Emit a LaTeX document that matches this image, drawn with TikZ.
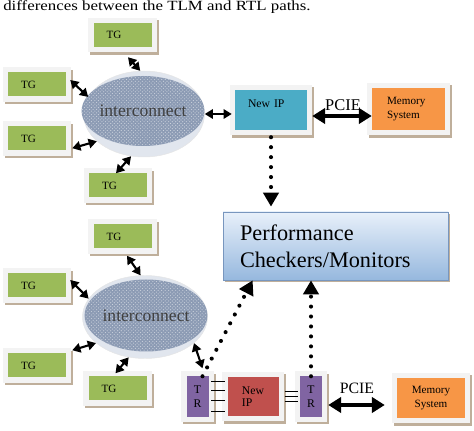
\documentclass[tikz,border=0pt]{standalone}
\usepackage{fontspec}
\setmainfont{Liberation Serif}
\usepackage{xcolor}
\definecolor{tggreen}{RGB}{155,187,89}
\definecolor{ipblue}{RGB}{75,172,198}
\definecolor{memorange}{RGB}{247,150,70}
\definecolor{dutred}{RGB}{192,80,77}
\definecolor{trpurple}{RGB}{128,100,162}
\definecolor{icgray}{RGB}{140,155,180}
\definecolor{ringgray}{RGB}{225,230,238}
\definecolor{framegray}{RGB}{243,243,243}
\definecolor{shadowbrown}{RGB}{175,155,130}
\definecolor{perflight}{RGB}{232,240,250}
\definecolor{perfdark}{RGB}{150,184,222}
\definecolor{perfedge}{RGB}{120,150,190}
\usepackage{tikz}
\usetikzlibrary{calc}
\usetikzlibrary{shapes.geometric}
\usetikzlibrary{arrows.meta}
\usetikzlibrary{patterns}
\usetikzlibrary{fit}
\usetikzlibrary{backgrounds}
\usetikzlibrary{shadows}
\newlength{\unitpx}
\setlength{\unitpx}{0.03cm}
\tikzset{
    common/.style={rectangle, inner sep=0pt},
    tg/.style={common, fill=tggreen, minimum height=24\unitpx, text width=32\unitpx, inner xsep=13\unitpx, align=left, font=\fontsize{9.5}{11}\selectfont},
    ipnew/.style={common, fill=ipblue, minimum height=40\unitpx, text width=46\unitpx, inner xsep=13\unitpx, align=left, text height=7pt, text depth=11pt, font=\fontsize{10}{11}\selectfont},
    memory/.style={common, fill=memorange, font=\fontsize{9.5}{12.5}\selectfont},
    tr/.style={common, fill=trpurple, minimum width=22\unitpx, minimum height=40\unitpx, align=center, font=\fontsize{10}{11.5}\selectfont},
    dut/.style={common, fill=dutred, minimum width=51\unitpx, minimum height=39\unitpx, align=left, font=\fontsize{10}{10.5}\selectfont},
    ring/.style={ellipse, fill=ringgray, draw=black!10, inner sep=0pt},
    core/.style={ellipse, preaction={fill=icgray}, pattern=crosshatch dots, pattern color=white!55!icgray, inner sep=0pt, text=black!75, font=\fontsize{15}{18}\selectfont},
    perf/.style={rectangle, draw=perfedge, line width=0.6pt, top color=perflight, bottom color=perfdark, minimum width=225\unitpx, minimum height=68\unitpx, text width=191\unitpx, inner xsep=17\unitpx, align=left, font=\fontsize{19}{22.7}\selectfont,
        drop shadow={shadow xshift=2\unitpx, shadow yshift=-2.5\unitpx, fill=shadowbrown, opacity=.8}},
    shadowframe/.style={fill=framegray, inner sep=5\unitpx, drop shadow={shadow xshift=2\unitpx, shadow yshift=-2.5\unitpx, fill=shadowbrown, opacity=.8}},
    biarrow/.style={{Triangle[length=7pt,width=8pt]}-{Triangle[length=7pt,width=8pt]}, line width=1.8pt},
    pcie/.style={{Triangle[length=11pt,width=13pt]}-{Triangle[length=11pt,width=13pt]}, line width=3.4pt},
    dotarrow/.style={-{Triangle[length=12pt,width=13pt]}, line width=3.5pt, line cap=round, dash pattern=on 0pt off 8.5pt},
    bus/.style={line width=0.8pt},
    linklabel/.style={inner sep=0pt, font=\fontsize{14}{16}\selectfont},
    caption/.style={inner sep=0pt, xscale=1.2, font=\fontsize{12}{14}\selectfont}
}

\begin{document}
\begin{tikzpicture}[x=0.03cm, y=-0.03cm]
    \useasboundingbox (0,0) rectangle (474,431);

    \node[caption, anchor=base west] (caption) at (3,10.5) {differences between the TLM and RTL paths.};

    \node[tg] (tgA) at (122.5,35) {TG};
    \node[tg] (tgB) at (37,84.5) {TG};
    \node[tg] (tgC) at (37,138.5) {TG};
    \node[tg] (tgD) at (118,185.5) {TG};
    \node[ring, minimum width=121\unitpx, minimum height=86\unitpx] (ringA) at (144,114) {};
    \node[core, minimum width=112\unitpx, minimum height=70\unitpx] (icA) at (143,111) {interconnect};
    \node[ipnew] (ipA) at (271,110) {New IP};
    \node[memory, minimum height=42\unitpx, text width=43\unitpx, inner xsep=15\unitpx, align=left] (memA) at (408.5,109) {Memory\\System};
    \node[linklabel] (pcieA) at (343,105) {PCIE};

    \node[perf] (perf) at (335.5,246) {Performance\\Checkers/Monitors};

    \node[tg] (tgE) at (122.5,236.5) {TG};
    \node[tg] (tgF) at (37,285.5) {TG};
    \node[tg] (tgG) at (37,365.5) {TG};
    \node[tg] (tgH) at (117.5,388.5) {TG};
    \node[ring, minimum width=125\unitpx, minimum height=83\unitpx] (ringB) at (145,317) {};
    \node[core, minimum width=113\unitpx, minimum height=72\unitpx] (icB) at (146,315.5) {interconnect};
    \node[tr] (trA) at (197.5,396.5) {T\\R};
    \node[dut] (ipB) at (253,396.5) {New\\IP};
    \node[tr] (trB) at (311,396.5) {T\\R};
    \node[memory, minimum width=68\unitpx, minimum height=40\unitpx, align=center] (memB) at (431,398) {Memory\\System};
    \node[linklabel, font=\fontsize{13.5}{16}\selectfont] (pcieB) at (357,388) {PCIE};

    \begin{scope}[on background layer]
        \foreach \n in {tgA,tgB,tgC,tgD,tgE,tgF,tgG,tgH,ipA,memA,trA,ipB,trB,memB}
            \node[shadowframe, fit=(\n)] (f\n) {};
    \end{scope}

    \draw[biarrow] ($(tgA.south)+(5.5,10)$) -- (ringA.95);
    \draw[biarrow] ($(tgB.east)+(4,-4.5)$) -- (ringA.163);
    \draw[biarrow] ($(tgC.south east)+(6,-2.5)$) -- (ringA.210);
    \draw[biarrow] ($(tgD.north)+(-2,0)$) -- (ringA.253);
    \draw[biarrow, shorten >=3\unitpx] (ringA.east) -- (ringA.east -| ipA.west);
    \draw[pcie, shorten <=5\unitpx] ($(ipA.east)+(0,6)$) -- ($(memA.west)+(0,7)$);
    \draw[dotarrow, shorten <=7\unitpx] (ipA.south) -- ($(ipA.south |- perf.north)+(0,-5)$);

    \draw[biarrow] ($(tgE.south)+(4.5,7)$) -- (ringB.96);
    \draw[biarrow] ($(tgF.east)+(4,-5.5)$) -- (ringB.162);
    \draw[biarrow] ($(tgG.north east)+(6,-3)$) -- (ringB.208);
    \draw[biarrow] ($(tgH.north)+(-2,-3)$) -- (ringB.248);
    \draw[biarrow] (ringB.-28) -- ($(trA.north)+(5,-8)$);
    \foreach \dy in {-15.5,-6.5,3.5,15}
        \draw[bus] ($(trA.east)+(2.5,\dy)$) -- ($(ipB.west)+(-2.5,\dy)$);
    \foreach \dy in {-5.5,-0.5,4.5}
        \draw[bus] ($(ipB.east)+(6,\dy)$) -- ($(trB.west)+(-2,\dy)$);
    \draw[pcie, shorten <=6\unitpx, shorten >=12\unitpx] ($(trB.east)+(0,8.5)$) -- ($(memB.west)+(0,7)$);
    \draw[dotarrow] ($(trA.north)+(5,0)$) -- ($(perf.south west)+(30,0)$);
    \draw[dotarrow] (trB.north) -- (trB.north |- perf.south);
\end{tikzpicture}
\end{document}
